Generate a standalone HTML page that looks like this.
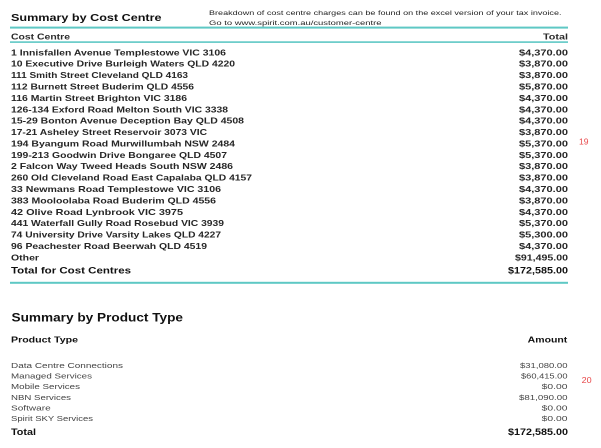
<!DOCTYPE html>
<html><head><meta charset="utf-8"><style>
html,body{margin:0;padding:0;background:#fff;}
svg{display:block;}
text{font-family:"Liberation Sans",sans-serif;}
.r{font-size:8.5px;font-weight:700;fill:#262626;}
.p{font-size:7.6px;font-weight:400;fill:#444;}
.n{font-size:6.8px;font-weight:400;fill:#222;}
.red{font-size:8px;fill:#e8484a;}
</style></head><body>
<svg width="601" height="448" viewBox="0 0 601 448" xmlns="http://www.w3.org/2000/svg">
<rect width="601" height="448" fill="#fff"/>
<text x="11" y="20.8" style="font-size:10.5px;font-weight:700;fill:#111" textLength="150.5" lengthAdjust="spacingAndGlyphs">Summary by Cost Centre</text>
<text class="n" x="209" y="15" textLength="352.5" lengthAdjust="spacingAndGlyphs">Breakdown of cost centre charges can be found on the excel version of your tax invoice.</text>
<text class="n" x="209" y="25" textLength="172.5" lengthAdjust="spacingAndGlyphs">Go to www.spirit.com.au/customer-centre</text>
<rect x="10" y="26.6" width="558" height="2" fill="#5ec8c4"/>
<text x="11" y="39.3" style="font-size:8.3px;font-weight:700;fill:#2a2a2a" textLength="59" lengthAdjust="spacingAndGlyphs">Cost Centre</text>
<text x="543" y="39.3" style="font-size:8.3px;font-weight:700;fill:#2a2a2a" textLength="25" lengthAdjust="spacingAndGlyphs">Total</text>
<rect x="10" y="41.3" width="558" height="1.6" fill="#5ec8c4"/>

<g class="r">
<text x="11" y="55.3" textLength="215" lengthAdjust="spacingAndGlyphs">1 Innisfallen Avenue Templestowe VIC 3106</text>
<text x="11" y="66.7" textLength="224" lengthAdjust="spacingAndGlyphs">10 Executive Drive Burleigh Waters QLD 4220</text>
<text x="11" y="78.1" textLength="177" lengthAdjust="spacingAndGlyphs">111 Smith Street Cleveland QLD 4163</text>
<text x="11" y="89.5" textLength="183" lengthAdjust="spacingAndGlyphs">112 Burnett Street Buderim QLD 4556</text>
<text x="11" y="100.9" textLength="176" lengthAdjust="spacingAndGlyphs">116 Martin Street Brighton VIC 3186</text>
<text x="11" y="112.3" textLength="217" lengthAdjust="spacingAndGlyphs">126-134 Exford Road Melton South VIC 3338</text>
<text x="11" y="123.6" textLength="233" lengthAdjust="spacingAndGlyphs">15-29 Bonton Avenue Deception Bay QLD 4508</text>
<text x="11" y="135.0" textLength="196" lengthAdjust="spacingAndGlyphs">17-21 Asheley Street Reservoir 3073 VIC</text>
<text x="11" y="146.4" textLength="224" lengthAdjust="spacingAndGlyphs">194 Byangum Road Murwillumbah NSW 2484</text>
<text x="11" y="157.8" textLength="216" lengthAdjust="spacingAndGlyphs">199-213 Goodwin Drive Bongaree QLD 4507</text>
<text x="11" y="169.2" textLength="222" lengthAdjust="spacingAndGlyphs">2 Falcon Way Tweed Heads South NSW 2486</text>
<text x="11" y="180.6" textLength="241" lengthAdjust="spacingAndGlyphs">260 Old Cleveland Road East Capalaba QLD 4157</text>
<text x="11" y="192.0" textLength="210" lengthAdjust="spacingAndGlyphs">33 Newmans Road Templestowe VIC 3106</text>
<text x="11" y="203.4" textLength="205" lengthAdjust="spacingAndGlyphs">383 Mooloolaba Road Buderim QLD 4556</text>
<text x="11" y="214.8" textLength="172" lengthAdjust="spacingAndGlyphs">42 Olive Road Lynbrook VIC 3975</text>
<text x="11" y="226.2" textLength="213" lengthAdjust="spacingAndGlyphs">441 Waterfall Gully Road Rosebud VIC 3939</text>
<text x="11" y="237.5" textLength="210" lengthAdjust="spacingAndGlyphs">74 University Drive Varsity Lakes QLD 4227</text>
<text x="11" y="248.9" textLength="196" lengthAdjust="spacingAndGlyphs">96 Peachester Road Beerwah QLD 4519</text>
<text x="11" y="260.3" textLength="28" lengthAdjust="spacingAndGlyphs">Other</text>

<text x="519" y="55.3" textLength="49" lengthAdjust="spacingAndGlyphs">$4,370.00</text>
<text x="519" y="66.7" textLength="49" lengthAdjust="spacingAndGlyphs">$3,870.00</text>
<text x="519" y="78.1" textLength="49" lengthAdjust="spacingAndGlyphs">$3,870.00</text>
<text x="519" y="89.5" textLength="49" lengthAdjust="spacingAndGlyphs">$5,870.00</text>
<text x="519" y="100.9" textLength="49" lengthAdjust="spacingAndGlyphs">$4,370.00</text>
<text x="519" y="112.3" textLength="49" lengthAdjust="spacingAndGlyphs">$4,370.00</text>
<text x="519" y="123.6" textLength="49" lengthAdjust="spacingAndGlyphs">$4,370.00</text>
<text x="519" y="135.0" textLength="49" lengthAdjust="spacingAndGlyphs">$3,870.00</text>
<text x="519" y="146.4" textLength="49" lengthAdjust="spacingAndGlyphs">$5,370.00</text>
<text x="519" y="157.8" textLength="49" lengthAdjust="spacingAndGlyphs">$5,370.00</text>
<text x="519" y="169.2" textLength="49" lengthAdjust="spacingAndGlyphs">$3,870.00</text>
<text x="519" y="180.6" textLength="49" lengthAdjust="spacingAndGlyphs">$3,870.00</text>
<text x="519" y="192.0" textLength="49" lengthAdjust="spacingAndGlyphs">$4,370.00</text>
<text x="519" y="203.4" textLength="49" lengthAdjust="spacingAndGlyphs">$3,870.00</text>
<text x="519" y="214.8" textLength="49" lengthAdjust="spacingAndGlyphs">$4,370.00</text>
<text x="519" y="226.2" textLength="49" lengthAdjust="spacingAndGlyphs">$5,370.00</text>
<text x="519" y="237.5" textLength="49" lengthAdjust="spacingAndGlyphs">$5,300.00</text>
<text x="519" y="248.9" textLength="49" lengthAdjust="spacingAndGlyphs">$4,370.00</text>
<text x="515" y="260.3" textLength="53" lengthAdjust="spacingAndGlyphs">$91,495.00</text>
</g>
<text x="11" y="273.4" style="font-size:9.2px;font-weight:700;fill:#111" textLength="120" lengthAdjust="spacingAndGlyphs">Total for Cost Centres</text>
<text x="508" y="273.4" style="font-size:9.2px;font-weight:700;fill:#111" textLength="60" lengthAdjust="spacingAndGlyphs">$172,585.00</text>
<rect x="10" y="281.8" width="558" height="2" fill="#5ec8c4"/>

<text class="red" x="579" y="144.6" textLength="9.5" lengthAdjust="spacingAndGlyphs">19</text>

<text x="11.5" y="321.6" style="font-size:11.6px;font-weight:700;fill:#111" textLength="171.5" lengthAdjust="spacingAndGlyphs">Summary by Product Type</text>
<text x="11" y="342.4" style="font-size:8.4px;font-weight:700;fill:#111" textLength="67" lengthAdjust="spacingAndGlyphs">Product Type</text>
<text x="527.7" y="342.4" style="font-size:8.4px;font-weight:700;fill:#111" textLength="39.6" lengthAdjust="spacingAndGlyphs">Amount</text>

<g class="p">
<text x="11" y="367.8" textLength="112" lengthAdjust="spacingAndGlyphs">Data Centre Connections</text>
<text x="11" y="378.5" textLength="81" lengthAdjust="spacingAndGlyphs">Managed Services</text>
<text x="11" y="389.1" textLength="69" lengthAdjust="spacingAndGlyphs">Mobile Services</text>
<text x="11" y="399.9" textLength="60" lengthAdjust="spacingAndGlyphs">NBN Services</text>
<text x="11" y="410.5" textLength="39.7" lengthAdjust="spacingAndGlyphs">Software</text>
<text x="11" y="421.1" textLength="82" lengthAdjust="spacingAndGlyphs">Spirit SKY Services</text>

<text x="520" y="367.8" textLength="47.5" lengthAdjust="spacingAndGlyphs">$31,080.00</text>
<text x="521" y="378.5" textLength="46.5" lengthAdjust="spacingAndGlyphs">$60,415.00</text>
<text x="541.7" y="389.1" textLength="25.8" lengthAdjust="spacingAndGlyphs">$0.00</text>
<text x="519" y="399.9" textLength="48.5" lengthAdjust="spacingAndGlyphs">$81,090.00</text>
<text x="541.7" y="410.5" textLength="25.8" lengthAdjust="spacingAndGlyphs">$0.00</text>
<text x="541.7" y="421.1" textLength="25.8" lengthAdjust="spacingAndGlyphs">$0.00</text>
</g>
<text x="11" y="434.8" style="font-size:8.8px;font-weight:700;fill:#111" textLength="25" lengthAdjust="spacingAndGlyphs">Total</text>
<text x="508" y="434.8" style="font-size:8.8px;font-weight:700;fill:#111" textLength="60" lengthAdjust="spacingAndGlyphs">$172,585.00</text>

<text class="red" x="581.7" y="383" textLength="10" lengthAdjust="spacingAndGlyphs">20</text>
</svg>
</body></html>
